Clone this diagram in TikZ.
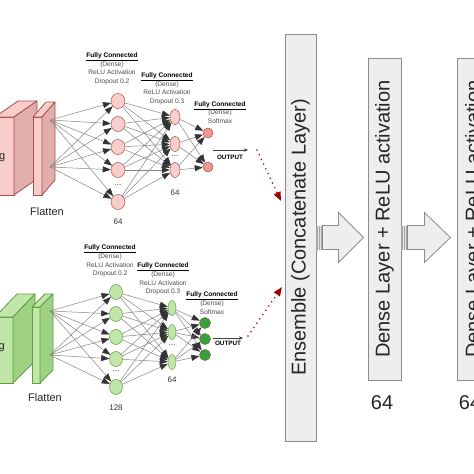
\documentclass[tikz,border=0pt]{standalone}
\usepackage{fontspec}
\setmainfont{Liberation Sans}
\usetikzlibrary{arrows.meta,positioning,shapes.geometric,calc}
\definecolor{pinkfill}{HTML}{F8CECC}
\definecolor{pinkside}{HTML}{E2AEAC}
\definecolor{pinkline}{HTML}{A9504C}
\definecolor{pinkdeep}{HTML}{EE9896}
\definecolor{greenfill}{HTML}{C2E6AA}
\definecolor{greenside}{HTML}{9FD183}
\definecolor{greenline}{HTML}{5E9E3C}
\definecolor{greendeep}{HTML}{3F9C3C}
\definecolor{wiregray}{HTML}{858585}
\definecolor{tipgray}{HTML}{333333}
\definecolor{boxfill}{HTML}{EEEEEE}
\definecolor{boxline}{HTML}{8C8C8C}
\definecolor{dotred}{HTML}{A00000}
\newcommand{\fctitle}{{\color{black}\smash{\underline{\textbf{Fully Connected}}}}}
\tikzset{
  >={Stealth[length=2.2mm]},
  neuron/.style={
    ellipse, draw, line width=0.5pt, inner sep=0pt
  },
  pinkn/.style={neuron, fill=pinkfill, draw=pinkline},
  pinkout/.style={neuron, fill=pinkdeep, draw=pinkline},
  greenn/.style={neuron, fill=greenfill, draw=greenline},
  greenout/.style={neuron, fill=greendeep, draw=greenline!80!black},
  wire/.style={
    draw=wiregray, line width=0.5pt,
    -{Triangle[length=8pt,width=6pt,color=tipgray]}
  },
  fcnote/.style={
    align=center, inner sep=0pt, text=black!70,
    font=\fontsize{6.6}{8.6}\selectfont
  },
  unitcount/.style={inner sep=0pt, text=black!80, font=\fontsize{8}{9}\selectfont},
  caption/.style={inner sep=0pt, text=black!85, font=\fontsize{11}{13}\selectfont},
  layerbox/.style={
    draw=boxline, fill=boxfill, line width=0.9pt, rectangle, inner sep=0pt,
    rotate=90, text=black!85, font=\fontsize{20}{24}\selectfont
  },
  bigcount/.style={inner sep=0pt, text=black!85, font=\fontsize{20}{24}\selectfont},
  blockarrow/.style={draw=boxline, fill=boxfill, line width=0.8pt, line join=miter},
  outarrow/.style={draw=black!75, line width=0.6pt, -{Stealth[length=4pt,width=3.5pt]}},
  outtext/.style={inner sep=0pt, font=\bfseries\fontsize{6.3}{7}\selectfont},
  redlink/.style={
    draw=dotred, line width=1.7pt, line cap=round, dash pattern=on 0pt off 5.2pt,
    -{Triangle[length=9pt,width=7pt]}
  },
  pinkface/.style={fill=pinkfill, draw=pinkline, line width=0.8pt, line join=round},
  pinkshade/.style={pinkface, fill=pinkside},
  greenface/.style={fill=greenfill, draw=greenline, line width=0.8pt, line join=round},
  greenshade/.style={greenface, fill=greenside},
}
\begin{document}
\begin{tikzpicture}[x=1pt,y=-1pt]
  \useasboundingbox (0,0) rectangle (474,474);
  \clip (0,0) rectangle (474,474);
  \fill[white] (0,0) rectangle (474,474);

  % top branch
  \draw[pinkface] (-5,117) rectangle (14,195);
  \draw[pinkface] (-5,117) -- (18,101) -- (37,101) -- (14,117) -- cycle;
  \draw[pinkshade] (14,117) -- (37,101) -- (37,179) -- (14,195) -- cycle;
  \node[caption, anchor=base east] (tpool) at (5.5,159) {g};
  \draw[pinkface] (33,117) rectangle (42,195);
  \draw[pinkface] (33,117) -- (46,102) -- (55,102) -- (42,117) -- cycle;
  \draw[pinkshade] (42,117) -- (55,102) -- (55,180) -- (42,195) -- cycle;
  \node[caption] (tflat) at (47,212) {Flatten};
  \coordinate (ti1) at (50,120);
  \coordinate (ti2) at (50,167);

  \node[pinkn, minimum width=14pt, minimum height=15pt] (ta1) at (118,101) {};
  \node[pinkn, minimum width=14pt, minimum height=15pt] (ta2) at (118,124) {};
  \node[pinkn, minimum width=14pt, minimum height=15pt] (ta3) at (118,147) {};
  \node[pinkn, minimum width=14pt, minimum height=15pt] (ta4) at (118,170) {};
  \node[pinkn, minimum width=14pt, minimum height=15pt] (ta5) at (118,202) {};
  \node[unitcount] (tadots) at (118,185) {...};
  \node[unitcount] (tacount) at (118,222) {64};

  \node[pinkn, minimum width=10pt, minimum height=15pt] (tb1) at (175,117) {};
  \node[pinkn, minimum width=10pt, minimum height=15pt] (tb2) at (175,144) {};
  \node[pinkn, minimum width=10pt, minimum height=15pt] (tb3) at (175,170) {};
  \node[unitcount] (tbdots) at (175,156) {...};
  \node[unitcount] (tbcount) at (175,193) {64};

  \node[pinkout, minimum width=10pt, minimum height=10pt] (tc1) at (208,133) {};
  \node[pinkout, minimum width=10pt, minimum height=10pt] (tc2) at (208,167) {};

  \foreach \i in {1,2} \foreach \j in {1,...,5} \draw[wire] (ti\i) -- (ta\j);
  \foreach \i in {1,...,5} \foreach \j in {1,2,3} \draw[wire] (ta\i) -- (tb\j);
  \foreach \i in {1,2,3} \foreach \j in {1,2} \draw[wire] (tb\i) -- (tc\j);

  \node[fcnote] (tl1) at (112,71) {\fctitle\\(Dense)\\ReLU Activation\\Dropout 0.2};
  \node[fcnote] (tl2) at (167,91) {\fctitle\\(Dense)\\ReLU Activation\\Dropout 0.3};
  \node[fcnote] (tl3) at (220,115) {\fctitle\\(Dense)\\Softmax};

  \coordinate (to1) at (213,150);
  \coordinate (to2) at (248,150);
  \draw[outarrow] (to1) -- (to2);
  \node[outtext] (tout) at (230,157) {OUTPUT};

  % bottom branch
  \draw[greenface] (-5,317) rectangle (13,383);
  \draw[greenface] (-5,317) -- (17,294) -- (35,294) -- (13,317) -- cycle;
  \draw[greenshade] (13,317) -- (35,294) -- (35,361) -- (13,383) -- cycle;
  \node[caption, anchor=base east] (gpool) at (5,349) {g};
  \draw[greenface] (32,307) rectangle (40,383);
  \draw[greenface] (32,307) -- (45,294) -- (53,294) -- (40,307) -- cycle;
  \draw[greenshade] (40,307) -- (53,294) -- (53,370) -- (40,383) -- cycle;
  \node[caption] (gflat) at (45,398) {Flatten};
  \coordinate (gi1) at (50,311);
  \coordinate (gi2) at (50,355);

  \node[greenn, minimum width=13pt, minimum height=15pt] (ga1) at (116,292) {};
  \node[greenn, minimum width=13pt, minimum height=15pt] (ga2) at (116,314) {};
  \node[greenn, minimum width=13pt, minimum height=15pt] (ga3) at (116,337) {};
  \node[greenn, minimum width=13pt, minimum height=15pt] (ga4) at (116,359) {};
  \node[greenn, minimum width=13pt, minimum height=15pt] (ga5) at (116,387) {};
  \node[unitcount] (gadots) at (116,371) {...};
  \node[unitcount] (gacount) at (116,408) {128};

  \node[greenn, minimum width=8pt, minimum height=15pt] (gb1) at (172,308) {};
  \node[greenn, minimum width=8pt, minimum height=15pt] (gb2) at (172,332) {};
  \node[greenn, minimum width=8pt, minimum height=15pt] (gb3) at (172,362) {};
  \node[unitcount] (gbdots) at (172,345) {...};
  \node[unitcount] (gbcount) at (172,380) {64};

  \node[greenout, minimum width=11pt, minimum height=11pt] (gc1) at (205,323) {};
  \node[greenout, minimum width=11pt, minimum height=11pt] (gc2) at (205,339) {};
  \node[greenout, minimum width=11pt, minimum height=11pt] (gc3) at (205,355) {};

  \foreach \i in {1,2} \foreach \j in {1,...,5} \draw[wire] (gi\i) -- (ga\j);
  \foreach \i in {1,...,5} \foreach \j in {1,2,3} \draw[wire] (ga\i) -- (gb\j);
  \foreach \i in {1,2,3} \foreach \j in {1,2,3} \draw[wire] (gb\i) -- (gc\j);

  \node[fcnote] (gl1) at (110,263.5) {\fctitle\\(Dense)\\ReLU Activation\\Dropout 0.2};
  \node[fcnote] (gl2) at (163,281.5) {\fctitle\\(Dense)\\ReLU Activation\\Dropout 0.3};
  \node[fcnote] (gl3) at (212,305.5) {\fctitle\\(Dense)\\Softmax};

  \coordinate (go1) at (213,338);
  \coordinate (go2) at (243,338);
  \draw[outarrow] (go1) -- (go2);
  \node[outtext] (gout) at (228,343) {OUTPUT};

  % ensemble and dense layers
  \node[layerbox, minimum width=407pt, minimum height=31pt] (ens) at (300.5,237.5)
    {Ensemble (Concatenate Layer)};
  \node[layerbox, minimum width=322pt, minimum height=33pt] (d1) at (384.5,219)
    {Dense Layer + ReLU activation};
  \node[layerbox, minimum width=322pt, minimum height=35pt] (d2) at (474.5,219)
    {Dense Layer + ReLU activation};
  \node[bigcount] (d1count) at (382,403) {64};
  \node[bigcount] (d2count) at (470,403) {64};

  \coordinate (tr1) at (257,150);
  \coordinate (tr2) at (281,201);
  \coordinate (gr1) at (248,336);
  \coordinate (gr2) at (282,287);
  \draw[redlink] (tr1) -- (tr2);
  \draw[redlink] (gr1) -- (gr2);

  \coordinate (ea) at (ens.south);
  \fill[gray!70] (ea) ++(0,-12) rectangle ++(6,24);
  \draw[white!80!gray, line width=0.6pt] (ea) ++(2,-12) -- ++(0,24) ++(2,-24) -- ++(0,24);
  \draw[blockarrow] (ea) ++(6,-12) -- ++(16,0) -- ++(0,-13) -- ++(25,25)
    -- ++(-25,25) -- ++(0,-13) -- ++(-16,0) -- cycle;

  \coordinate (da) at (d1.south |- ens.south);
  \fill[gray!70] (da) ++(0,-12) rectangle ++(6,24);
  \draw[white!80!gray, line width=0.6pt] (da) ++(2,-12) -- ++(0,24) ++(2,-24) -- ++(0,24);
  \draw[blockarrow] (da) ++(6,-12) -- ++(17,0) -- ++(0,-13) -- ++(26,25)
    -- ++(-26,25) -- ++(0,-13) -- ++(-17,0) -- cycle;
\end{tikzpicture}
\end{document}
